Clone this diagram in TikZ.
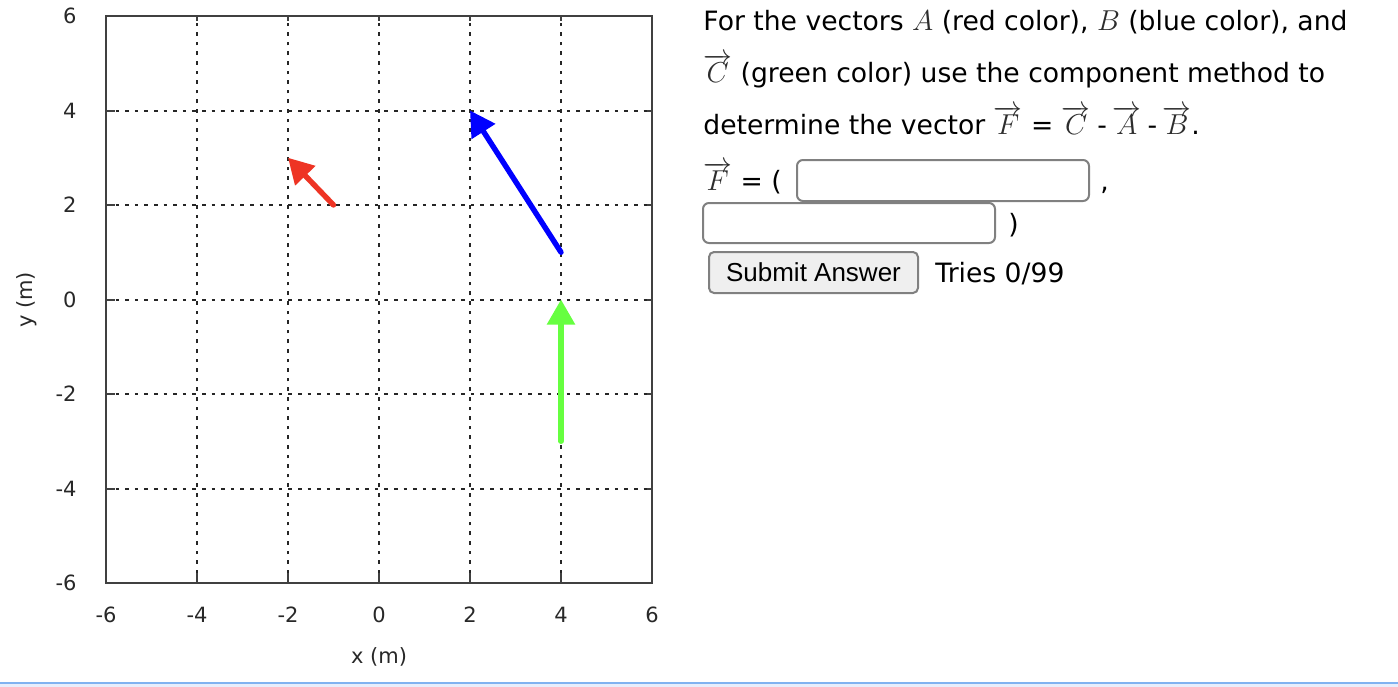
\documentclass[tikz,border=0pt]{standalone}
\usepackage{fontspec}
\setmainfont{DejaVu Sans}
\newfontfamily\arialf{Liberation Sans}
\usetikzlibrary{arrows.meta}
\definecolor{vred}{RGB}{238,52,36}
\definecolor{vblue}{RGB}{0,0,255}
\definecolor{vgreen}{RGB}{102,255,64}
\definecolor{framegray}{RGB}{64,64,64}
\definecolor{labgray}{RGB}{40,40,40}
\definecolor{boxgray}{RGB}{128,128,128}
\definecolor{btnfill}{RGB}{239,239,239}
\definecolor{webblue}{RGB}{128,178,240}
\definecolor{webfill}{RGB}{232,238,252}
\definecolor{mathgray}{RGB}{45,45,45}
\newcommand{\mlet}[1]{{\color{mathgray}\fontsize{15}{18}\selectfont$#1$}}
\newcommand{\mvec}[1]{{\color{mathgray}\fontsize{15}{18}\selectfont$\overrightarrow{#1}$}}
\tikzset{
  gridline/.style={black!85, line width=1pt, dash pattern=on 1.8pt off 3pt},
  axisline/.style={framegray, line width=1pt},
  ticklab/.style={inner sep=0pt, text=labgray, font=\fontsize{10.5}{12}\selectfont},
  vec/.style={draw=#1, fill=#1, line width=2.7pt, line cap=round, -{Triangle[length=12.5pt,width=13.5pt]}},
  qtext/.style={anchor=base west, inner sep=0pt, font=\fontsize{13.3}{16}\selectfont},
  inbox/.style={draw=boxgray, line width=1pt, rounded corners=3pt, fill=white},
}
\begin{document}
\begin{tikzpicture}[x=0.5pt,y=-0.5pt]
\useasboundingbox (0,0) rectangle (1398,686);
\fill[white] (0,0) rectangle (1398,686);
% ---------- plot ----------
\begin{scope}[shift={(379,299.5)}, x=22.75pt, y=23.625pt]
  \foreach \v in {-4,-2,0,2,4} {
    \draw[gridline] (\v,-6) -- (\v,6);
    \draw[gridline] (-6,\v) -- (6,\v);
    \draw[axisline] (\v,-6) -- ++(0,0.21);
    \draw[axisline] (\v,6) -- ++(0,-0.1);
    \draw[axisline] (-6,\v) -- ++(0.2,0);
    \draw[axisline] (6,\v) -- ++(-0.1,0);
  }
  \draw[axisline] (-6,-6) rectangle (6,6);
  \foreach \v in {-6,-4,-2,0,2,4,6} {
    \node[ticklab, anchor=east] (ylab\v) at ([xshift=-14.5pt]-6,\v) {\v};
    \node[ticklab, anchor=north] (xlab\v) at ([yshift=-12pt]\v,-6) {\v};
  }
  \coordinate (A0) at (-1,2);  \coordinate (A1) at (-2,3);
  \coordinate (B0) at (4,1);   \coordinate (B1) at (2,4);
  \coordinate (C0) at (4,-3);  \coordinate (C1) at (4,0);
  \draw[vec=vred]   (A0) -- (A1);
  \draw[vec=vblue]  (B0) -- (B1);
  \draw[vec=vgreen] (C0) -- (C1);
\end{scope}
\node[ticklab, font=\fontsize{10.5}{12}\selectfont] (xtitle) at (379,657) {x (m)};
\node[ticklab, font=\fontsize{10.5}{12}\selectfont, rotate=90] (ytitle) at (27,300) {y (m)};
% ---------- question text ----------
\node[qtext] (l1) at (703,30) {For the vectors \mlet{A} (red color), \mlet{B} (blue color), and};
\node[qtext] (l2) at (703,82) {\mvec{C} (green color) use the component method to};
\node[qtext] (l3) at (703,134) {determine the vector \mvec{F} = \mvec{C}\hspace{0.25em}-\hspace{0.2em}\mvec{A}\hspace{0.25em}-\hspace{0.2em}\mvec{B}.};
\node[qtext] (l4) at (703,190) {\mvec{F} = (};
\draw[inbox] (797,160) rectangle (1089,201);
\node[qtext] (comma) at (1100,190) {,};
\draw[inbox] (703,203) rectangle (995,243);
\node[qtext] (close) at (1008,233) {)};
\draw[draw=boxgray, line width=1pt, rounded corners=2.5pt, fill=btnfill] (709,252) rectangle (918,293);
\node[inner sep=0pt, font=\arialf\fontsize{13}{15.6}\selectfont] (submit) at (813.5,272.5) {Submit Answer};
\node[qtext] (tries) at (935,282) {Tries 0/99};
% ---------- bottom page strip ----------
\fill[webfill] (0,683) rectangle (1398,690);
\draw[webblue, line width=1pt] (0,683) -- (1398,683);
\end{tikzpicture}
\end{document}
